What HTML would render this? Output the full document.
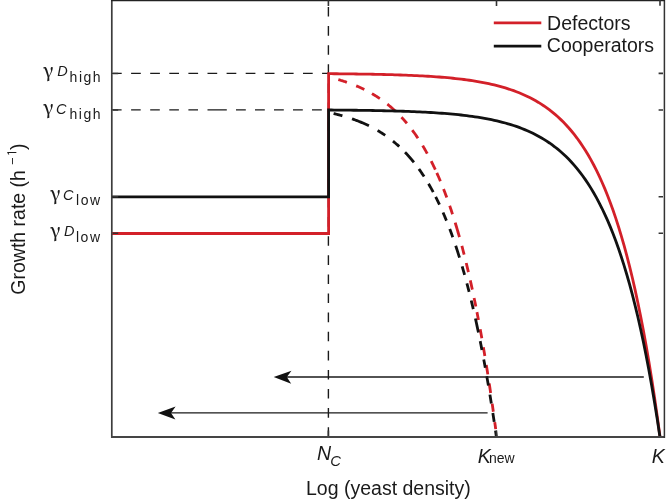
<!DOCTYPE html>
<html><head><meta charset="utf-8"><title>Growth rate vs log yeast density</title>
<style>html,body{margin:0;padding:0;background:#fff;width:666px;height:499px;overflow:hidden}svg{display:block}</style>
</head><body>
<svg width="666" height="499" viewBox="0 0 666 499">
<rect width="666" height="499" fill="#fff"/>
<g stroke="#1a1a1a" stroke-width="1.4" fill="none">
<path d="M112,73.4 H328.6" stroke-dasharray="9.7 9.4"/>
<path d="M112,109.9 H217" stroke-dasharray="9.6 9.5"/>
<path d="M217,109.9 H328.6" stroke-dasharray="9.8 9.2"/>
<path d="M328.4,7 V436" stroke-dasharray="9.6 9.5"/>
</g>
<path d="M336.00,78.94 L336.54,79.09 L337.07,79.24 L337.61,79.39 L338.14,79.54 L338.68,79.70 L339.21,79.85 L339.75,80.01 L340.29,80.17 L340.82,80.34 L341.36,80.50 L341.89,80.66 L342.43,80.83 L342.96,81.00 L343.50,81.17 L344.03,81.35 L344.57,81.52 L345.11,81.70 L345.64,81.88 L346.18,82.06 L346.71,82.24 L347.25,82.43 L347.78,82.61 L348.32,82.80 L348.86,82.99 L349.39,83.19 L349.93,83.38 L350.46,83.58 L351.00,83.78 L351.53,83.98 L352.07,84.19 L352.60,84.39 L353.14,84.60 L353.68,84.81 L354.21,85.03 L354.75,85.24 L355.28,85.46 L355.82,85.68 L356.35,85.91 L356.89,86.13 L357.43,86.36 L357.96,86.59 L358.50,86.82 L359.03,87.06 L359.57,87.30 L360.10,87.54 L360.64,87.79 L361.17,88.03 L361.71,88.28 L362.25,88.53 L362.78,88.79 L363.32,89.05 L363.85,89.31 L364.39,89.57 L364.92,89.84 L365.46,90.11 L366.00,90.38 L366.53,90.66 L367.07,90.94 L367.60,91.22 L368.14,91.50 L368.67,91.79 L369.21,92.08 L369.74,92.38 L370.28,92.68 L370.82,92.98 L371.35,93.28 L371.89,93.59 L372.42,93.90 L372.96,94.22 L373.49,94.54 L374.03,94.86 L374.57,95.19 L375.10,95.52 L375.64,95.85 L376.17,96.19 L376.71,96.53 L377.24,96.87 L377.78,97.22 L378.31,97.57 L378.85,97.93 L379.39,98.29 L379.92,98.65 L380.46,99.02 L380.99,99.39 L381.53,99.77 L382.06,100.15 L382.60,100.53 L383.14,100.92 L383.67,101.32 L384.21,101.72 L384.74,102.12 L385.28,102.52 L385.81,102.94 L386.35,103.35 L386.88,103.77 L387.42,104.20 L387.96,104.63 L388.49,105.06 L389.03,105.50 L389.56,105.95 L390.10,106.40 L390.63,106.85 L391.17,107.31 L391.71,107.78 L392.24,108.25 L392.78,108.72 L393.31,109.20 L393.85,109.69 L394.38,110.18 L394.92,110.68 L395.45,111.18 L395.99,111.69 L396.53,112.20 L397.06,112.72 L397.60,113.25 L398.13,113.78 L398.67,114.31 L399.20,114.86 L399.74,115.41 L400.28,115.96 L400.81,116.52 L401.35,117.09 L401.88,117.67 L402.42,118.25 L402.95,118.83 L403.49,119.43 L404.02,120.03 L404.56,120.63 L405.10,121.25 L405.63,121.87 L406.17,122.50 L406.70,123.13 L407.24,123.77 L407.77,124.42 L408.31,125.08 L408.85,125.74 L409.38,126.41 L409.92,127.09 L410.45,127.77 L410.99,128.47 L411.52,129.17 L412.06,129.88 L412.59,130.59 L413.13,131.32 L413.67,132.05 L414.20,132.79 L414.74,133.54 L415.27,134.30 L415.81,135.07 L416.34,135.84 L416.88,136.62 L417.42,137.42 L417.95,138.22 L418.49,139.03 L419.02,139.85 L419.56,140.67 L420.09,141.51 L420.63,142.36 L421.16,143.21 L421.70,144.08 L422.24,144.96 L422.77,145.84 L423.31,146.74 L423.84,147.64 L424.38,148.56 L424.91,149.48 L425.45,150.42 L425.99,151.36 L426.52,152.32 L427.06,153.29 L427.59,154.27 L428.13,155.25 L428.66,156.25 L429.20,157.27 L429.74,158.29 L430.27,159.32 L430.81,160.37 L431.34,161.43 L431.88,162.49 L432.41,163.58 L432.95,164.67 L433.48,165.77 L434.02,166.89 L434.56,168.02 L435.09,169.16 L435.63,170.32 L436.16,171.49 L436.70,172.67 L437.23,173.86 L437.77,175.07 L438.31,176.29 L438.84,177.53 L439.38,178.78 L439.91,180.04 L440.45,181.32 L440.98,182.61 L441.52,183.91 L442.05,185.23 L442.59,186.57 L443.13,187.92 L443.66,189.28 L444.20,190.66 L444.73,192.06 L445.27,193.47 L445.80,194.90 L446.34,196.34 L446.88,197.80 L447.41,199.27 L447.95,200.76 L448.48,202.27 L449.02,203.80 L449.55,205.34 L450.09,206.90 L450.62,208.47 L451.16,210.07 L451.70,211.68 L452.23,213.31 L452.77,214.96 L453.30,216.63 L453.84,218.31 L454.37,220.02 L454.91,221.74 L455.45,223.48 L455.98,225.24 L456.52,227.02 L457.05,228.83 L457.59,230.65 L458.12,232.49 L458.66,234.35 L459.19,236.24 L459.73,238.14 L460.27,240.06 L460.80,242.01 L461.34,243.98 L461.87,245.97 L462.41,247.98 L462.94,250.02 L463.48,252.08 L464.02,254.16 L464.55,256.26 L465.09,258.39 L465.62,260.54 L466.16,262.72 L466.69,264.92 L467.23,267.14 L467.76,269.39 L468.30,271.67 L468.84,273.97 L469.37,276.29 L469.91,278.64 L470.44,281.02 L470.98,283.42 L471.51,285.86 L472.05,288.31 L472.59,290.80 L473.12,293.31 L473.66,295.85 L474.19,298.42 L474.73,301.02 L475.26,303.65 L475.80,306.31 L476.33,308.99 L476.87,311.71 L477.41,314.46 L477.94,317.23 L478.48,320.04 L479.01,322.88 L479.55,325.75 L480.08,328.66 L480.62,331.59 L481.16,334.56 L481.69,337.57 L482.23,340.60 L482.76,343.67 L483.30,346.77 L483.83,349.91 L484.37,353.09 L484.90,356.29 L485.44,359.54 L485.98,362.82 L486.51,366.14 L487.05,369.49 L487.58,372.88 L488.12,376.31 L488.65,379.78 L489.19,383.29 L489.73,386.83 L490.26,390.42 L490.80,394.05 L491.33,397.71 L491.87,401.42 L492.40,405.17 L492.94,408.96 L493.47,412.79 L494.01,416.66 L494.55,420.58 L495.08,424.55 L495.62,428.55 L496.15,432.60 L496.69,436.70" fill="none" stroke="#d32029" stroke-width="2.8" stroke-dasharray="0.00 2.41 9.00 9.95 8.92 8.65 9.34 9.34 10.12 9.09 8.21 8.69 9.85 8.81 9.19 8.60 9.28 3.69 9.00 8.55 8.92 8.81 8.98 8.81 14.98 9.05 9.13 8.69 9.28 8.49 9.51 8.56 8.65 5.78 8.10 9.40 9.13 9.07 8.78 9.11 9.60 9.11 9.65 10.76 8.23 10.44 7.16 1000.00"/>
<path d="M331.00,112.95 L331.55,113.07 L332.10,113.20 L332.65,113.33 L333.20,113.45 L333.76,113.58 L334.31,113.71 L334.86,113.85 L335.41,113.98 L335.96,114.12 L336.51,114.25 L337.06,114.39 L337.61,114.53 L338.17,114.67 L338.72,114.82 L339.27,114.96 L339.82,115.11 L340.37,115.26 L340.92,115.41 L341.47,115.56 L342.02,115.71 L342.58,115.87 L343.13,116.03 L343.68,116.18 L344.23,116.35 L344.78,116.51 L345.33,116.67 L345.88,116.84 L346.43,117.01 L346.99,117.18 L347.54,117.35 L348.09,117.53 L348.64,117.70 L349.19,117.88 L349.74,118.06 L350.29,118.24 L350.84,118.43 L351.39,118.61 L351.95,118.80 L352.50,118.99 L353.05,119.19 L353.60,119.38 L354.15,119.58 L354.70,119.78 L355.25,119.98 L355.80,120.19 L356.36,120.40 L356.91,120.60 L357.46,120.82 L358.01,121.03 L358.56,121.25 L359.11,121.47 L359.66,121.69 L360.21,121.91 L360.77,122.14 L361.32,122.37 L361.87,122.60 L362.42,122.84 L362.97,123.08 L363.52,123.32 L364.07,123.56 L364.62,123.80 L365.18,124.05 L365.73,124.31 L366.28,124.56 L366.83,124.82 L367.38,125.08 L367.93,125.34 L368.48,125.61 L369.03,125.88 L369.58,126.15 L370.14,126.43 L370.69,126.71 L371.24,126.99 L371.79,127.27 L372.34,127.56 L372.89,127.85 L373.44,128.15 L373.99,128.45 L374.55,128.75 L375.10,129.06 L375.65,129.37 L376.20,129.68 L376.75,130.00 L377.30,130.32 L377.85,130.64 L378.40,130.97 L378.96,131.30 L379.51,131.63 L380.06,131.97 L380.61,132.32 L381.16,132.66 L381.71,133.01 L382.26,133.37 L382.81,133.73 L383.37,134.09 L383.92,134.46 L384.47,134.83 L385.02,135.21 L385.57,135.59 L386.12,135.97 L386.67,136.36 L387.22,136.75 L387.78,137.15 L388.33,137.56 L388.88,137.96 L389.43,138.38 L389.98,138.79 L390.53,139.21 L391.08,139.64 L391.63,140.07 L392.18,140.51 L392.74,140.95 L393.29,141.40 L393.84,141.85 L394.39,142.31 L394.94,142.77 L395.49,143.24 L396.04,143.71 L396.59,144.19 L397.15,144.67 L397.70,145.16 L398.25,145.66 L398.80,146.16 L399.35,146.66 L399.90,147.18 L400.45,147.69 L401.00,148.22 L401.56,148.75 L402.11,149.29 L402.66,149.83 L403.21,150.38 L403.76,150.93 L404.31,151.49 L404.86,152.06 L405.41,152.64 L405.97,153.22 L406.52,153.81 L407.07,154.40 L407.62,155.00 L408.17,155.61 L408.72,156.23 L409.27,156.85 L409.82,157.48 L410.37,158.12 L410.93,158.76 L411.48,159.41 L412.03,160.07 L412.58,160.74 L413.13,161.42 L413.68,162.10 L414.23,162.79 L414.78,163.49 L415.34,164.19 L415.89,164.91 L416.44,165.63 L416.99,166.36 L417.54,167.10 L418.09,167.85 L418.64,168.61 L419.19,169.37 L419.75,170.15 L420.30,170.93 L420.85,171.72 L421.40,172.53 L421.95,173.34 L422.50,174.16 L423.05,174.99 L423.60,175.83 L424.16,176.68 L424.71,177.53 L425.26,178.40 L425.81,179.28 L426.36,180.17 L426.91,181.07 L427.46,181.98 L428.01,182.90 L428.56,183.83 L429.12,184.77 L429.67,185.72 L430.22,186.69 L430.77,187.66 L431.32,188.64 L431.87,189.64 L432.42,190.65 L432.97,191.67 L433.53,192.70 L434.08,193.75 L434.63,194.80 L435.18,195.87 L435.73,196.95 L436.28,198.04 L436.83,199.15 L437.38,200.26 L437.94,201.40 L438.49,202.54 L439.04,203.70 L439.59,204.87 L440.14,206.05 L440.69,207.25 L441.24,208.46 L441.79,209.69 L442.35,210.92 L442.90,212.18 L443.45,213.45 L444.00,214.73 L444.55,216.03 L445.10,217.34 L445.65,218.67 L446.20,220.01 L446.75,221.37 L447.31,222.74 L447.86,224.13 L448.41,225.54 L448.96,226.96 L449.51,228.40 L450.06,229.86 L450.61,231.33 L451.16,232.82 L451.72,234.32 L452.27,235.85 L452.82,237.39 L453.37,238.95 L453.92,240.53 L454.47,242.12 L455.02,243.74 L455.57,245.37 L456.13,247.02 L456.68,248.69 L457.23,250.38 L457.78,252.09 L458.33,253.82 L458.88,255.56 L459.43,257.33 L459.98,259.12 L460.54,260.93 L461.09,262.76 L461.64,264.61 L462.19,266.49 L462.74,268.38 L463.29,270.30 L463.84,272.24 L464.39,274.20 L464.94,276.18 L465.50,278.19 L466.05,280.22 L466.60,282.27 L467.15,284.35 L467.70,286.45 L468.25,288.58 L468.80,290.72 L469.35,292.90 L469.91,295.10 L470.46,297.32 L471.01,299.57 L471.56,301.85 L472.11,304.15 L472.66,306.48 L473.21,308.84 L473.76,311.22 L474.32,313.63 L474.87,316.07 L475.42,318.54 L475.97,321.03 L476.52,323.56 L477.07,326.11 L477.62,328.69 L478.17,331.31 L478.73,333.95 L479.28,336.62 L479.83,339.32 L480.38,342.06 L480.93,344.83 L481.48,347.62 L482.03,350.46 L482.58,353.32 L483.13,356.22 L483.69,359.15 L484.24,362.11 L484.79,365.11 L485.34,368.14 L485.89,371.21 L486.44,374.31 L486.99,377.45 L487.54,380.62 L488.10,383.83 L488.65,387.08 L489.20,390.37 L489.75,393.69 L490.30,397.05 L490.85,400.46 L491.40,403.90 L491.95,407.38 L492.51,410.90 L493.06,414.46 L493.61,418.06 L494.16,421.70 L494.71,425.39 L495.26,429.11 L495.81,432.89 L496.36,436.70" fill="none" stroke="#111" stroke-width="2.8" stroke-dasharray="0.00 2.66 9.08 10.06 18.32 9.84 9.01 9.75 8.29 8.10 13.48 8.27 9.22 8.43 9.57 5.32 8.65 8.73 8.78 8.89 8.83 9.02 12.56 9.01 8.94 8.76 8.83 8.82 8.91 9.55 14.33 8.85 8.99 9.69 8.52 8.42 9.57 9.19 8.91 9.73 8.93 8.85 5.65 1000.00"/>
<path d="M112,233.5 H328.6 V73.7 L328.60,73.70 L331.36,73.72 L334.12,73.75 L336.89,73.77 L339.65,73.80 L342.41,73.82 L345.17,73.85 L347.93,73.88 L350.69,73.92 L353.46,73.95 L356.22,73.99 L358.98,74.03 L361.74,74.07 L364.50,74.11 L367.26,74.16 L370.03,74.21 L372.79,74.26 L375.55,74.31 L378.31,74.37 L381.07,74.43 L383.84,74.50 L386.60,74.57 L389.36,74.64 L392.12,74.72 L394.88,74.80 L397.64,74.89 L400.41,74.98 L403.17,75.08 L405.93,75.18 L408.69,75.29 L411.45,75.41 L414.22,75.53 L416.98,75.66 L419.74,75.80 L422.50,75.94 L425.26,76.10 L428.02,76.26 L430.79,76.43 L433.55,76.62 L436.31,76.81 L439.07,77.02 L441.83,77.23 L444.59,77.46 L447.36,77.71 L450.12,77.97 L452.88,78.24 L455.64,78.53 L458.40,78.84 L461.17,79.16 L463.93,79.51 L466.69,79.87 L469.45,80.26 L472.21,80.67 L474.97,81.10 L477.74,81.56 L480.50,82.05 L483.26,82.56 L486.02,83.11 L488.78,83.69 L491.54,84.30 L494.31,84.95 L497.07,85.63 L499.83,86.36 L502.59,87.13 L505.35,87.94 L508.12,88.81 L510.88,89.72 L513.64,90.69 L516.40,91.71 L519.16,92.80 L521.92,93.95 L524.69,95.17 L527.45,96.46 L530.21,97.82 L532.97,99.27 L535.73,100.80 L538.50,102.42 L541.26,104.14 L544.02,105.96 L546.78,107.89 L549.54,109.93 L552.30,112.09 L555.07,114.38 L557.83,116.81 L560.59,119.38 L563.35,122.10 L566.11,124.98 L568.87,128.03 L571.64,131.26 L574.40,134.68 L577.16,138.30 L579.92,142.14 L582.68,146.20 L585.45,150.51 L588.21,155.06 L590.97,159.89 L593.73,165.00 L596.49,170.42 L599.25,176.15 L602.02,182.23 L604.78,188.66 L607.54,195.47 L610.30,202.68 L613.06,210.32 L615.82,218.41 L618.59,226.98 L621.35,236.06 L624.11,245.67 L626.87,255.84 L629.63,266.62 L632.40,278.04 L635.16,290.13 L637.92,302.94 L640.68,316.50 L643.44,330.86 L646.20,346.07 L648.97,362.18 L651.73,379.23 L654.49,397.30 L657.25,416.44 L660.01,436.70" fill="none" stroke="#d32029" stroke-width="2.8" stroke-linejoin="miter"/>
<path d="M112,196.9 H328.6 V110 L328.60,110.00 L331.36,110.02 L334.12,110.04 L336.88,110.06 L339.64,110.09 L342.40,110.11 L345.17,110.14 L347.93,110.17 L350.69,110.20 L353.45,110.23 L356.21,110.27 L358.97,110.30 L361.73,110.34 L364.49,110.38 L367.25,110.42 L370.01,110.47 L372.77,110.52 L375.54,110.57 L378.30,110.62 L381.06,110.68 L383.82,110.74 L386.58,110.80 L389.34,110.87 L392.10,110.94 L394.86,111.02 L397.62,111.10 L400.38,111.18 L403.14,111.27 L405.91,111.37 L408.67,111.47 L411.43,111.57 L414.19,111.68 L416.95,111.80 L419.71,111.93 L422.47,112.06 L425.23,112.21 L427.99,112.36 L430.75,112.51 L433.51,112.68 L436.28,112.86 L439.04,113.05 L441.80,113.25 L444.56,113.46 L447.32,113.68 L450.08,113.92 L452.84,114.17 L455.60,114.44 L458.36,114.72 L461.12,115.01 L463.88,115.33 L466.65,115.66 L469.41,116.02 L472.17,116.39 L474.93,116.79 L477.69,117.20 L480.45,117.65 L483.21,118.12 L485.97,118.62 L488.73,119.14 L491.49,119.70 L494.25,120.29 L497.02,120.91 L499.78,121.58 L502.54,122.28 L505.30,123.02 L508.06,123.80 L510.82,124.64 L513.58,125.52 L516.34,126.45 L519.10,127.43 L521.86,128.48 L524.62,129.59 L527.39,130.76 L530.15,132.00 L532.91,133.31 L535.67,134.70 L538.43,136.17 L541.19,137.73 L543.95,139.38 L546.71,141.13 L549.47,142.98 L552.23,144.93 L554.99,147.01 L557.76,149.20 L560.52,151.52 L563.28,153.98 L566.04,156.59 L568.80,159.35 L571.56,162.27 L574.32,165.36 L577.08,168.63 L579.84,172.10 L582.60,175.77 L585.36,179.65 L588.13,183.76 L590.89,188.12 L593.65,192.73 L596.41,197.61 L599.17,202.78 L601.93,208.25 L604.69,214.05 L607.45,220.18 L610.21,226.67 L612.97,233.55 L615.73,240.83 L618.50,248.54 L621.26,256.70 L624.02,265.34 L626.78,274.49 L629.54,284.17 L632.30,294.43 L635.06,305.28 L637.82,316.78 L640.58,328.95 L643.34,341.83 L646.10,355.48 L648.87,369.92 L651.63,385.21 L654.39,401.41 L657.15,418.55 L659.91,436.70" fill="none" stroke="#111" stroke-width="2.8" stroke-linejoin="miter"/>
<g stroke="#1a1a1a" stroke-width="1.3" fill="none">
<path d="M643.8,377 H286"/>
<path d="M487.6,412.9 H170"/>
</g>
<g fill="#111">
<path d="M273.7,377 L291.5,370.8 L286.8,377 L291.2,383.8 Z"/>
<path d="M157.8,412.9 L175.6,406.4 L171,412.9 L175.4,419.4 Z"/>
</g>
<g stroke="#454545" stroke-width="2" fill="none">
<path d="M111.8,0 V437.9" stroke-width="1.7" stroke="#3d3d3d"/>
<path d="M111,437 H665"/>
<path d="M664.4,0 V438" stroke-width="1.5" stroke="#333"/>
<path d="M111,0.15 H665" stroke="#222"/>
<path d="M328.4,0 V6 M496.5,0 V6 M660,0 V5.7 M328.4,436 V430.5 M496.5,436 V430.5 M113,73.5 H118.2 M113,110 H118.2 M113,196.8 H118.2 M113,233.2 H118.2 M663,73.4 H658.6 M663,110 H658.6 M663,196.8 H658.6 M663,233.2 H658.6" stroke-width="1.6" stroke="#333"/>
</g>
<path d="M493.8,22.8 H541.3" stroke="#d32029" stroke-width="2.7"/>
<path d="M493.8,46.2 H541.3" stroke="#111" stroke-width="2.7"/>
<g font-family="Liberation Sans, Arial, sans-serif" fill="#1a1a1a">
<text x="547.1" y="30.1" font-size="19.5">Defectors</text>
<text x="546.8" y="52.3" font-size="19.5">Cooperators</text>
<text x="42.9" y="76.5" font-size="19" font-family="Noto Serif CJK SC, serif" font-weight="600">γ</text>
<text x="57.2" y="75.9" font-size="14.5" font-style="italic">D</text>
<text x="69.6" y="81.7" font-size="14" letter-spacing="1.5">high</text>
<text x="43.1" y="113.8" font-size="19" font-family="Noto Serif CJK SC, serif" font-weight="600">γ</text>
<text x="56.1" y="113.9" font-size="14.5" font-style="italic">C</text>
<text x="69.5" y="118.9" font-size="14" letter-spacing="1.5">high</text>
<text x="50.0" y="200.0" font-size="19" font-family="Noto Serif CJK SC, serif" font-weight="600">γ</text>
<text x="63.0" y="199.7" font-size="14.5" font-style="italic">C</text>
<text x="76.1" y="205.1" font-size="14" letter-spacing="1.5">low</text>
<text x="49.9" y="236.6" font-size="19" font-family="Noto Serif CJK SC, serif" font-weight="600">γ</text>
<text x="64.0" y="235.9" font-size="14.5" font-style="italic">D</text>
<text x="76.0" y="241.6" font-size="14" letter-spacing="1.5">low</text>
<text x="317" y="460" font-size="19.5" font-style="italic">N</text>
<text x="330.3" y="466" font-size="14.8" font-style="italic">C</text>
<text x="477.7" y="462.6" font-size="19.5" font-style="italic">K</text>
<text x="488.9" y="462.6" font-size="14">new</text>
<text x="651.7" y="462.9" font-size="19.5" font-style="italic">K</text>
<text x="306" y="495.1" font-size="19.5">Log (yeast density)</text>
<text transform="translate(24.8,294.7) rotate(-90)" font-size="19.5">Growth rate (h<tspan dx="5" dy="-8" font-size="13">−</tspan><tspan dx="1.4" font-size="13" font-family="IPAGothic, sans-serif">1</tspan><tspan dx="-0.4" dy="8">)</tspan></text>
</g>
</svg>
</body></html>
